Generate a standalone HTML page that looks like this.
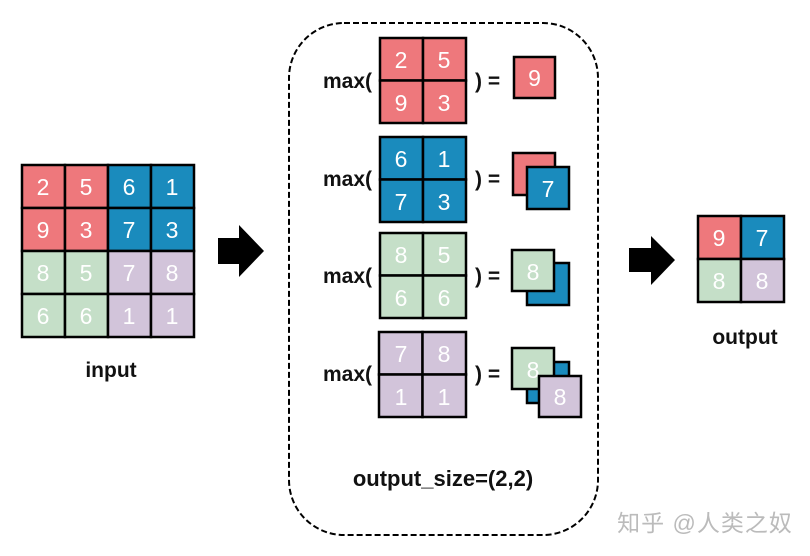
<!DOCTYPE html>
<html><head><meta charset="utf-8"><style>
html,body{margin:0;padding:0;background:#fff;}
svg{display:block;}
.n{font-family:"Liberation Sans",sans-serif;font-size:23px;fill:#fff;text-anchor:middle;}
.l{font-family:"Liberation Sans",sans-serif;font-size:21px;font-weight:bold;fill:#111;}
</style></head><body>
<svg width="810" height="556" viewBox="0 0 810 556" xmlns="http://www.w3.org/2000/svg">
<defs>
<style>.c{stroke:#000;stroke-width:2.5;}</style>
</defs>
<g>
<rect class="c" x="22" y="165" width="43" height="43" fill="#ee787c"/>
<rect class="c" x="65" y="165" width="43" height="43" fill="#ee787c"/>
<rect class="c" x="108" y="165" width="43" height="43" fill="#1a8bbd"/>
<rect class="c" x="151" y="165" width="43" height="43" fill="#1a8bbd"/>
<rect class="c" x="22" y="208" width="43" height="43" fill="#ee787c"/>
<rect class="c" x="65" y="208" width="43" height="43" fill="#ee787c"/>
<rect class="c" x="108" y="208" width="43" height="43" fill="#1a8bbd"/>
<rect class="c" x="151" y="208" width="43" height="43" fill="#1a8bbd"/>
<rect class="c" x="22" y="251" width="43" height="43" fill="#c5dfc8"/>
<rect class="c" x="65" y="251" width="43" height="43" fill="#c5dfc8"/>
<rect class="c" x="108" y="251" width="43" height="43" fill="#d2c4da"/>
<rect class="c" x="151" y="251" width="43" height="43" fill="#d2c4da"/>
<rect class="c" x="22" y="294" width="43" height="43" fill="#c5dfc8"/>
<rect class="c" x="65" y="294" width="43" height="43" fill="#c5dfc8"/>
<rect class="c" x="108" y="294" width="43" height="43" fill="#d2c4da"/>
<rect class="c" x="151" y="294" width="43" height="43" fill="#d2c4da"/>
<text class="n" x="43" y="195">2</text><text class="n" x="86" y="195">5</text><text class="n" x="129" y="195">6</text><text class="n" x="172" y="195">1</text>
<text class="n" x="43" y="238">9</text><text class="n" x="86" y="238">3</text><text class="n" x="129" y="238">7</text><text class="n" x="172" y="238">3</text>
<text class="n" x="43" y="281">8</text><text class="n" x="86" y="281">5</text><text class="n" x="129" y="281">7</text><text class="n" x="172" y="281">8</text>
<text class="n" x="43" y="324">6</text><text class="n" x="86" y="324">6</text><text class="n" x="129" y="324">1</text><text class="n" x="172" y="324">1</text>
</g>
<text class="l" x="111" y="377" text-anchor="middle">input</text>
<polygon points="218,238 239,238 239,225 264,251 239,277 239,264 218,264" fill="#000"/>
<polygon points="629,248 651,248 651,236 675,260 651,285 651,272 629,272" fill="#000"/>
<rect x="289" y="23" width="309" height="512" rx="55" ry="55" fill="none" stroke="#000" stroke-width="2" stroke-dasharray="6,3"/>
<text class="l" x="323" y="88">max(</text>
<rect class="c" x="380" y="38" width="43" height="42.5" fill="#ee787c"/>
<rect class="c" x="423" y="38" width="43" height="42.5" fill="#ee787c"/>
<rect class="c" x="380" y="80.5" width="43" height="42.5" fill="#ee787c"/>
<rect class="c" x="423" y="80.5" width="43" height="42.5" fill="#ee787c"/>
<text class="n" x="401" y="68">2</text><text class="n" x="444" y="68">5</text>
<text class="n" x="401" y="111">9</text><text class="n" x="444" y="111">3</text>
<text class="l" x="475" y="88">) =</text>
<rect class="c" x="514" y="57" width="41" height="41" fill="#ee787c"/>
<text class="n" x="534.5" y="86">9</text>
<text class="l" x="323" y="186">max(</text>
<rect class="c" x="380" y="137" width="43" height="42.5" fill="#1a8bbd"/>
<rect class="c" x="423" y="137" width="43" height="42.5" fill="#1a8bbd"/>
<rect class="c" x="380" y="179.5" width="43" height="42.5" fill="#1a8bbd"/>
<rect class="c" x="423" y="179.5" width="43" height="42.5" fill="#1a8bbd"/>
<text class="n" x="401" y="167">6</text><text class="n" x="444" y="167">1</text>
<text class="n" x="401" y="210">7</text><text class="n" x="444" y="210">3</text>
<text class="l" x="475" y="186">) =</text>
<rect class="c" x="513" y="153" width="42" height="42" fill="#ee787c"/>
<rect class="c" x="527" y="167" width="42" height="42" fill="#1a8bbd"/>
<text class="n" x="548" y="197">7</text>
<text class="l" x="323" y="283">max(</text>
<rect class="c" x="380" y="233" width="43" height="42.5" fill="#c5dfc8"/>
<rect class="c" x="423" y="233" width="43" height="42.5" fill="#c5dfc8"/>
<rect class="c" x="380" y="275.5" width="43" height="42.5" fill="#c5dfc8"/>
<rect class="c" x="423" y="275.5" width="43" height="42.5" fill="#c5dfc8"/>
<text class="n" x="401" y="263">8</text><text class="n" x="444" y="263">5</text>
<text class="n" x="401" y="306">6</text><text class="n" x="444" y="306">6</text>
<text class="l" x="475" y="283">) =</text>
<rect class="c" x="527" y="263" width="42" height="42" fill="#1a8bbd"/>
<rect class="c" x="512" y="250" width="42" height="41" fill="#c5dfc8"/>
<text class="n" x="533" y="280">8</text>
<text class="l" x="323" y="381">max(</text>
<rect class="c" x="379" y="332" width="43.5" height="42.5" fill="#d2c4da"/>
<rect class="c" x="422.5" y="332" width="43.5" height="42.5" fill="#d2c4da"/>
<rect class="c" x="379" y="374.5" width="43.5" height="42.5" fill="#d2c4da"/>
<rect class="c" x="422.5" y="374.5" width="43.5" height="42.5" fill="#d2c4da"/>
<text class="n" x="401" y="362">7</text><text class="n" x="444" y="362">8</text>
<text class="n" x="401" y="405">1</text><text class="n" x="444" y="405">1</text>
<text class="l" x="475" y="381">) =</text>
<rect class="c" x="527" y="362" width="42" height="41" fill="#1a8bbd"/>
<rect class="c" x="512" y="348" width="42" height="41" fill="#c5dfc8"/>
<text class="n" x="533" y="378">8</text>
<rect class="c" x="539" y="376" width="42" height="41" fill="#d2c4da"/>
<text class="n" x="560" y="405">8</text>
<text class="l" x="443" y="486" text-anchor="middle" font-size="22" style="font-size:22px">output_size=(2,2)</text>
<rect class="c" x="698" y="216" width="43" height="43" fill="#ee787c"/>
<rect class="c" x="741" y="216" width="43" height="43" fill="#1a8bbd"/>
<rect class="c" x="698" y="259" width="43" height="43" fill="#c5dfc8"/>
<rect class="c" x="741" y="259" width="43" height="43" fill="#d2c4da"/>
<text class="n" x="719" y="246">9</text><text class="n" x="762" y="246">7</text>
<text class="n" x="719" y="289">8</text><text class="n" x="762" y="289">8</text>
<text class="l" x="745" y="344" text-anchor="middle">output</text>
<text x="705" y="531" text-anchor="middle" font-family="'Liberation Sans','Noto Sans CJK SC',sans-serif" font-size="23" letter-spacing="1" fill="#bbb">知乎 @人类之奴</text>
</svg>
</body></html>
